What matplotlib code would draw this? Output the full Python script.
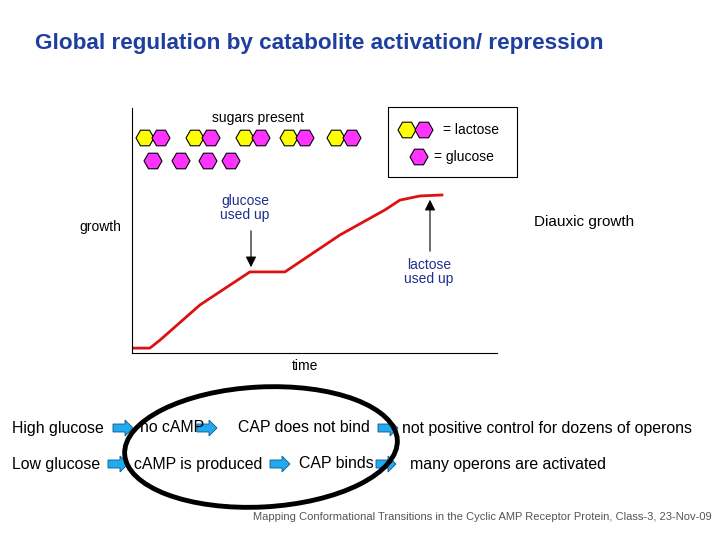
import matplotlib
matplotlib.use("Agg")
import matplotlib.pyplot as plt
import numpy as np
from matplotlib.patches import RegularPolygon, Ellipse, Rectangle, FancyArrow

plt.rcParams['font.family'] = ['Liberation Sans', 'DejaVu Sans']

time = [0, 4.9, 7.7, 18.6, 32.3, 41.9, 44.7, 57.0, 69.3, 73.4, 78.9, 84.9]
growth = [2, 2, 5.3, 19.6, 33.1, 33.1, 35.9, 48.2, 58.4, 62.4, 64.1, 64.5]

row1 = ["High glucose", "no cAMP", "CAP does not bind", "not positive control for dozens of operons"]
row2 = ["Low glucose", "cAMP is produced", "CAP binds", "many operons are activated"]

W, H = 720, 540
fig = plt.figure(figsize=(7.2, 5.4), dpi=100)

ov = fig.add_axes([0, 0, 1, 1])
ov.set_xlim(0, W); ov.set_ylim(H, 0); ov.axis('off')

ax = fig.add_axes([132/W, 1-353/H, (497-132)/W, (353-108)/H])
ax.plot(time, growth, color='#dd1111', lw=2)
ax.set_xlim(0, 100); ax.set_ylim(0, 100)
ax.set_xticks([]); ax.set_yticks([])
for s in ['top', 'right']:
    ax.spines[s].set_visible(False)
ax.patch.set_alpha(0)
ov.set_zorder(2)

ov.text(35, 44, "Global regulation by catabolite activation/ repression", color='#1f3f9f',
        fontsize=16.2, fontweight='bold', ha='left', va='center')

def hexa(x, y, c):
    ov.add_patch(RegularPolygon((x, y), 6, radius=9, orientation=np.pi/6, facecolor=c,
                                edgecolor='black', lw=0.8))
Y, M = '#ffff00', '#ff33ff'
for x in [145, 195, 245, 289, 336]:
    hexa(x, 138, Y); hexa(x + 16, 138, M)
for x in [153, 181, 208, 231]:
    hexa(x, 161, M)
ov.text(258, 118, "sugars present", fontsize=10, ha='center', va='center')
ov.add_patch(Rectangle((388, 107), 129, 70, fill=False, ec='black', lw=0.8))
hexa(407, 130, Y); hexa(424, 130, M); hexa(419, 157, M)
ov.text(443, 130, "= lactose", fontsize=10, va='center')
ov.text(434, 157, "= glucose", fontsize=10, va='center')

ov.text(100, 227, "growth", fontsize=10, ha='center', va='center')
ov.text(305, 366, "time", fontsize=10, ha='center', va='center')
ov.text(245, 208, "glucose\nused up", fontsize=10, ha='center', va='center', color='#1f2f8f', linespacing=0.95)
ov.text(429, 272, "lactose\nused up", fontsize=10, ha='center', va='center', color='#1f2f8f', linespacing=0.95)
ov.annotate("", xy=(251, 270), xytext=(251, 228),
            arrowprops=dict(arrowstyle='-|>', color='black', lw=0.8, mutation_scale=16))
ov.annotate("", xy=(430, 197), xytext=(430, 254),
            arrowprops=dict(arrowstyle='-|>', color='black', lw=0.8, mutation_scale=16))
ov.text(584, 222, "Diauxic growth", fontsize=11, ha='center', va='center')

fs = 11.4
xs1 = [12, 140, 238, 402]
xs2 = [12, 134, 299, 410]
ar1 = [123, 207, 388]
ar2 = [118, 280, 386]
def barrow(x, y):
    ov.add_patch(FancyArrow(x - 10, y, 12, 0, width=8, head_width=16, head_length=8,
                            length_includes_head=False, fc='#22aaee', ec='#115588', lw=0.6, zorder=1))
for x in ar1:
    barrow(x, 428)
for x in ar2:
    barrow(x, 464)
for t, x in zip(row1, xs1):
    ov.text(x, 428, t, fontsize=fs, va='center', zorder=3)
for t, x in zip(row2, xs2):
    ov.text(x, 464, t, fontsize=fs, va='center', zorder=3)
ov.add_patch(Ellipse((261, 447), 273, 120, angle=-3, fill=False, ec='black', lw=3.5, zorder=4))
ov.text(712, 517, "Mapping Conformational Transitions in the Cyclic AMP Receptor Protein, Class-3, 23-Nov-09",
        fontsize=8, ha='right', va='center', color='#555555')

fig.savefig("out.png", dpi=100)
